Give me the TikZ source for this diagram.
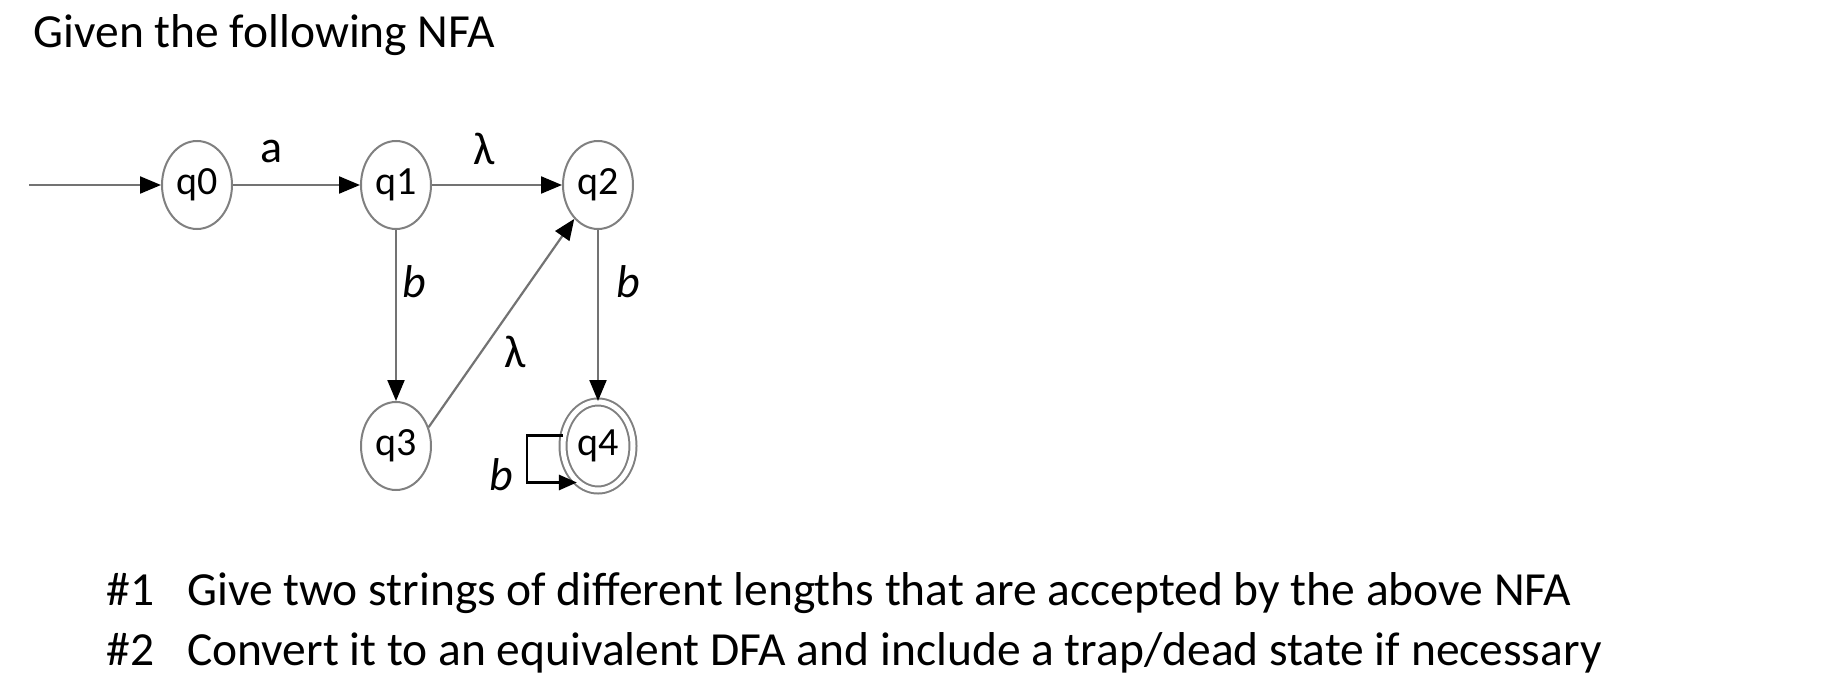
\documentclass[tikz,border=0pt]{standalone}
\usepackage{fontspec}
\setmainfont{Carlito}
\usetikzlibrary{arrows.meta,positioning,calc,shapes.geometric}

\tikzset{
  nfastate/.style={ellipse, draw=black!50, line width=2pt, minimum width=70pt, minimum height=88pt, inner sep=0pt, font=\fontsize{40}{40}\selectfont},
  accepting/.style={double=white, double distance=5pt},
  trans/.style={draw=black!55, line width=2.2pt, -{Triangle[black, length=21pt, width=17pt]}},
  loopline/.style={draw=black, line width=2.8pt, -{Triangle[black, length=18pt, width=15pt]}},
  lbl/.style={font=\fontsize{46}{46}\selectfont},
  question/.style={anchor=base west, font=\fontsize{47.5}{55}\selectfont}
}

\begin{document}
\begin{tikzpicture}[x=1pt,y=-1pt]
  \useasboundingbox (0,0) rectangle (1836,696);

  \node (title) [question] at (30,47) {Given the following NFA};

  \coordinate (start) at (29,185);
  \node (q0) [nfastate] at (197,185) {q0};
  \node (q1) [nfastate] at (396,185) {q1};
  \node (q2) [nfastate] at (598,185) {q2};
  \node (q3) [nfastate] at (396,446) {q3};
  \node (q4) [nfastate, accepting] at (598,446) {q4};

  \path [every edge/.style=trans]
  (start) edge (q0)
  (q0) edge node [lbl, pos=.3, yshift=34pt] {a} (q1)
  (q1) edge node [lbl, pos=.4, yshift=36pt] {λ} (q2)
  (q1) edge node [lbl, pos=.3, xshift=18pt] {\itshape b} (q3)
  (q2) edge node [lbl, pos=.3, xshift=30pt] {\itshape b} (q4)
  (q3.30) edge node [lbl, pos=.4, xshift=28pt, yshift=-8pt] {λ} (q2.235);

  \draw [loopline] (q4.163) -- ++(-36,0) |- node [lbl, pos=.42, left=9pt] {\itshape b} (q4.240);

  \node (ques1) [question] at (103,605) {\#1\hspace{33pt}Give two strings of different lengths that are accepted by the above NFA};
  \node (ques2) [question] at (103,665) {\#2\hspace{33pt}Convert it to an equivalent DFA and include a trap/dead state if necessary};
\end{tikzpicture}
\end{document}
